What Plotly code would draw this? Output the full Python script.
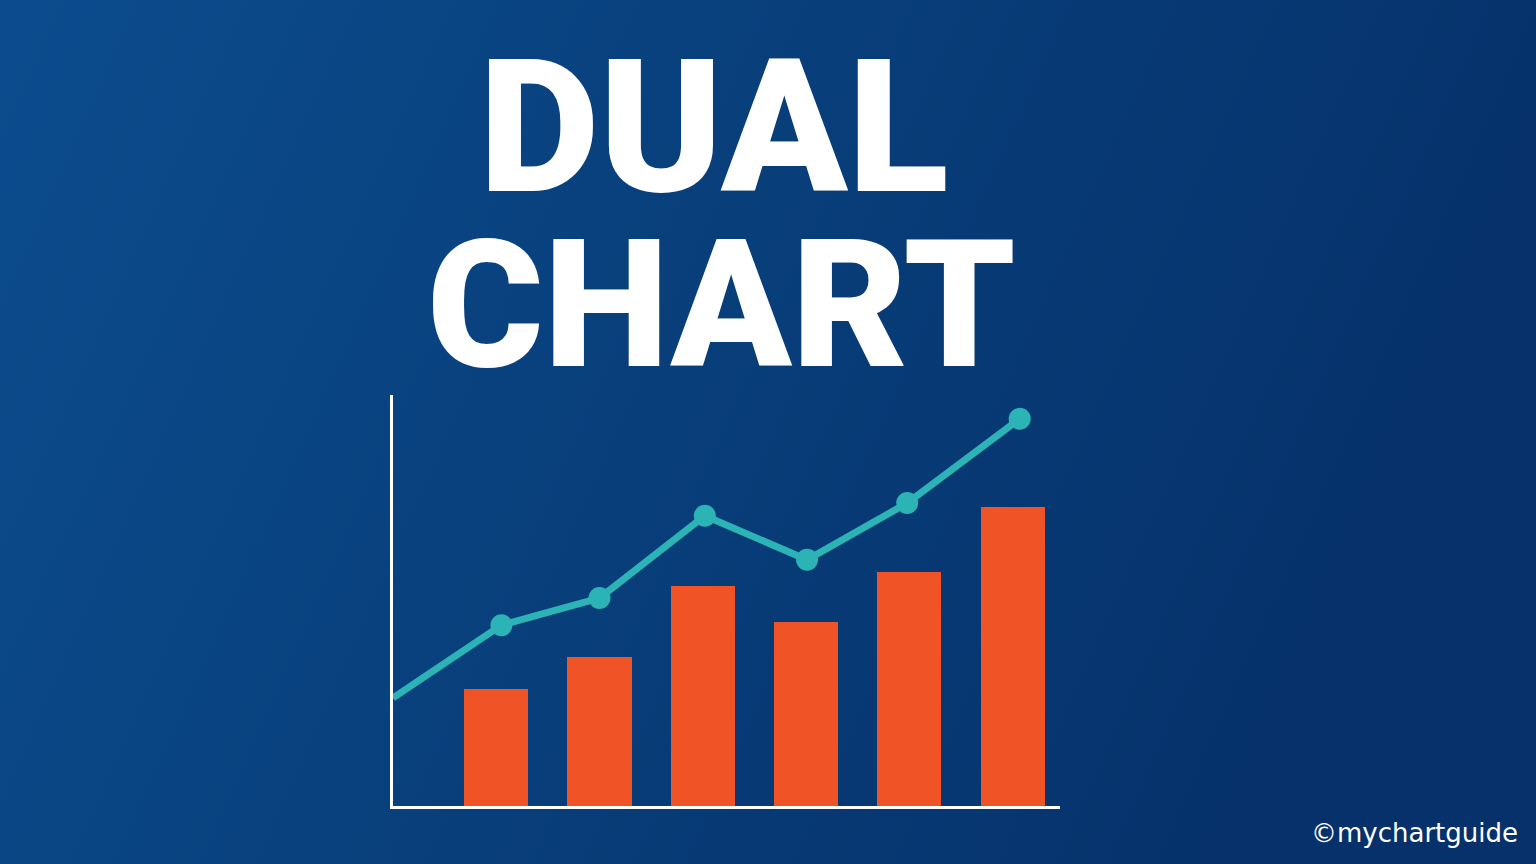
import plotly.graph_objects as go

# bar series (one bar per category)
bar_x = [1, 2, 3, 4, 5, 6]
bar_values = [28.5, 36.3, 53.5, 44.8, 56.9, 72.7]

# line series, starts at the y axis
line_x = [0, 1.05, 2, 3.02, 4.01, 4.98, 6.07]
line_values = [26.3, 44.0, 50.6, 70.6, 59.9, 73.7, 94.2]

title_lines = ["DUAL", "CHART"]
credit = "©mychartguide"

# background gradient as an svg image
bg_svg = (
    "<svg xmlns='http://www.w3.org/2000/svg' width='1536' height='864'>"
    "<defs><linearGradient id='g' x1='0' y1='0' x2='1' y2='0.25'>"
    "<stop offset='0' stop-color='%230c4c8e'/>"
    "<stop offset='0.5' stop-color='%23083f7b'/>"
    "<stop offset='1' stop-color='%2306316a'/>"
    "</linearGradient></defs>"
    "<rect width='1536' height='864' fill='url(%23g)'/></svg>"
)
bg_src = "data:image/svg+xml;charset=utf-8," + bg_svg

fig = go.Figure()

fig.add_trace(go.Bar(
    x=bar_x, y=bar_values,
    width=0.62,
    marker=dict(color="#ef5326", line=dict(width=0)),
    showlegend=False,
))

fig.add_trace(go.Scatter(
    x=line_x, y=line_values,
    mode="lines+markers",
    line=dict(color="#2bb3b5", width=7),
    marker=dict(color="#2bb3b5", size=[0, 22, 22, 22, 22, 22, 22],
                opacity=1, line=dict(width=0)),
    showlegend=False,
))

W, H = 1536, 864

fig.update_layout(
    width=W, height=H,
    margin=dict(l=0, r=0, t=0, b=0),
    paper_bgcolor="#083f7b",
    plot_bgcolor="rgba(0,0,0,0)",
    bargap=0,
    xaxis=dict(
        domain=[393 / W, 1060 / W],
        range=[0, 6.46],
        showline=True, linecolor="white", linewidth=3,
        showgrid=False, zeroline=False, showticklabels=False, ticks="",
    ),
    yaxis=dict(
        domain=[(H - 806) / H, (H - 395) / H],
        range=[0, 100],
        showline=True, linecolor="white", linewidth=3,
        showgrid=False, zeroline=False, showticklabels=False, ticks="",
    ),
    images=[dict(
        source=bg_src, xref="paper", yref="paper",
        x=0, y=1, sizex=1, sizey=1, sizing="stretch",
        xanchor="left", yanchor="top", layer="below",
    )],
)

# big title, two lines (second line set a touch smaller, it is narrower in the original)
for txt, xpix, ypix, fsize in zip(title_lines, [713, 721], [127, 305], [186, 178]):
    fig.add_annotation(
        text=txt, xref="paper", yref="paper",
        x=xpix / W, y=1 - ypix / H, xanchor="center", yanchor="middle",
        showarrow=False,
        font=dict(family="Roboto", size=fsize, color="white", weight=900),
    )

fig.add_annotation(
    text=credit, xref="paper", yref="paper",
    x=1520 / W, y=1 - 833 / H, xanchor="right", yanchor="middle",
    showarrow=False,
    font=dict(family="DejaVu Sans", size=26, color="white"),
)

# drop the default page margin so the figure sits at the top-left corner
fig.write_html("out.html", config={"displayModeBar": False},
               post_script="document.body.style.margin='0';")
